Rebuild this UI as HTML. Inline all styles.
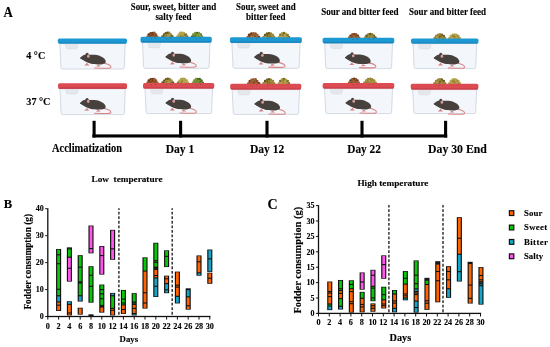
<!DOCTYPE html><html><head><meta charset="utf-8"><style>html,body{margin:0;padding:0;background:#fff;width:550px;height:347px;overflow:hidden}svg{display:block;will-change:transform}</style></head><body>
<svg width="550" height="347" viewBox="0 0 550 347" style="font-family:'Liberation Serif',serif;font-weight:bold"><style>text{stroke:#000;stroke-width:0.12px;paint-order:stroke}</style>
<defs><symbol id="mouse" viewBox="0 0 30 16" preserveAspectRatio="none" overflow="visible">
<path d="M23,10 C26.5,10.6 29.5,11.6 29.6,13.4 C29.7,14.8 26,14.7 13.5,14.3" fill="none" stroke="#d88282" stroke-width="1.0"/>
<path d="M0,5 C0.8,4 1.8,3.2 3,2.6 C4.2,2 5.2,1.9 6,2 C7.5,2.2 8.5,2.3 10,2.3 C13.5,2.2 17,2.3 20,3.8 C22.8,5 24.6,6.8 24.6,8.4 C24.6,10 23,10.8 20,11 C17,11.2 13,11.1 10.5,10.5 C7.5,9.8 5,8.6 3,7.3 C1.6,6.5 0.4,5.8 0,5 Z" fill="#47413e"/>
<circle cx="6.7" cy="1.9" r="1.5" fill="#47413e"/>
<ellipse cx="7.8" cy="3.5" rx="1.25" ry="1.45" fill="#dc9c9c"/>
<path d="M6.5,9.6 L4,12 L8.8,11.9 Z" fill="#d88282"/>
<path d="M17,11 L15.5,13 L20,12.8 Z" fill="#d88282"/>
<circle cx="0.5" cy="5.2" r="0.5" fill="#2a2626"/>
</symbol></defs>
<text x="3.6" y="16.5" font-size="13.8" text-anchor="start" textLength="9.3" lengthAdjust="spacingAndGlyphs">A</text>
<text x="26.3" y="58.8" font-size="9.8" text-anchor="start" textLength="18.9" lengthAdjust="spacingAndGlyphs">4 °C</text>
<text x="26.3" y="104.8" font-size="9.8" text-anchor="start" textLength="24.2" lengthAdjust="spacingAndGlyphs">37 °C</text>
<text x="173.4" y="9.6" font-size="9.5" text-anchor="middle" textLength="85.5" lengthAdjust="spacingAndGlyphs">Sour, sweet, bitter and</text>
<text x="173.4" y="19.6" font-size="9.5" text-anchor="middle" textLength="36" lengthAdjust="spacingAndGlyphs">salty feed</text>
<path d="M59.8,43.6 L125.2,43.6 L124.3,67.5 Q124.2,69.0 122.7,69.0 L62.599999999999994,69.0 Q61.0,69.0 60.9,67.5 Z" fill="#f3f6fa" stroke="#c9d2dd" stroke-width="0.8"/><path d="M65.3,43.6 L77.89999999999999,43.6 L77.1,47.800000000000004 Q76.89999999999999,48.800000000000004 75.89999999999999,48.800000000000004 L67.3,48.800000000000004 Q66.3,48.800000000000004 66.1,47.800000000000004 Z" fill="#e4e7eb" stroke="#d3d8de" stroke-width="0.5"/><rect x="57.8" y="38.4" width="69.2" height="5.200000000000003" rx="1.8" fill="#1c98d3"/><rect x="58.3" y="42.4" width="68.2" height="1.2" rx="0.6" fill="#1680bb"/><use href="#mouse" x="80.20" y="52.30" width="31.20" height="17.60"/>
<path d="M142.5,42.5 L210.0,42.5 L209.1,66.8 Q209.0,68.3 207.5,68.3 L145.3,68.3 Q143.7,68.3 143.6,66.8 Z" fill="#f3f6fa" stroke="#c9d2dd" stroke-width="0.8"/><path d="M148.0,42.5 L160.6,42.5 L159.79999999999998,46.7 Q159.6,47.7 158.6,47.7 L150.0,47.7 Q149.0,47.7 148.8,46.7 Z" fill="#e4e7eb" stroke="#d3d8de" stroke-width="0.5"/><path d="M145.90,38.60 C147.47,35.80 148.78,32.00 152.45,32.00 C156.12,32.00 157.43,35.80 159.00,38.60 Z" fill="#9a5a30"/><circle cx="147.31" cy="36.44" r="1.03" fill="#9a5a30"/><circle cx="157.59" cy="36.44" r="1.01" fill="#9a5a30"/><circle cx="148.69" cy="34.37" r="1.18" fill="#6a3a1c"/><circle cx="156.21" cy="34.37" r="1.13" fill="#9a5a30"/><circle cx="150.51" cy="32.92" r="1.04" fill="#6a3a1c"/><circle cx="154.39" cy="32.92" r="1.30" fill="#9a5a30"/><circle cx="152.45" cy="32.70" r="1.02" fill="#6a3a1c"/><circle cx="153.09" cy="34.83" r="0.73" fill="#6a3a1c" opacity="0.75"/><circle cx="149.56" cy="37.23" r="0.79" fill="#6a3a1c" opacity="0.75"/><circle cx="155.63" cy="35.02" r="0.67" fill="#6a3a1c" opacity="0.75"/><circle cx="150.71" cy="35.71" r="0.69" fill="#6a3a1c" opacity="0.75"/><circle cx="152.64" cy="34.41" r="0.77" fill="#6a3a1c" opacity="0.75"/><circle cx="149.24" cy="35.23" r="0.59" fill="#6a3a1c" opacity="0.75"/><circle cx="151.72" cy="35.17" r="0.81" fill="#6a3a1c" opacity="0.75"/><circle cx="153.72" cy="36.60" r="0.83" fill="#6a3a1c" opacity="0.75"/><circle cx="153.37" cy="36.66" r="0.65" fill="#cdb878" opacity="0.4"/><path d="M161.20,38.60 C162.68,35.80 163.91,32.00 167.35,32.00 C170.79,32.00 172.02,35.80 173.50,38.60 Z" fill="#9c8838"/><circle cx="162.53" cy="36.44" r="1.28" fill="#66581e"/><circle cx="172.17" cy="36.44" r="1.32" fill="#66581e"/><circle cx="163.82" cy="34.37" r="1.02" fill="#66581e"/><circle cx="170.88" cy="34.37" r="1.18" fill="#9c8838"/><circle cx="165.53" cy="32.92" r="1.01" fill="#66581e"/><circle cx="169.17" cy="32.92" r="1.30" fill="#9c8838"/><circle cx="167.35" cy="32.70" r="1.22" fill="#66581e"/><circle cx="166.94" cy="36.11" r="0.70" fill="#cdb878" opacity="0.4"/><circle cx="168.39" cy="35.39" r="0.81" fill="#cdb878" opacity="0.4"/><circle cx="169.46" cy="34.91" r="0.68" fill="#cdb878" opacity="0.4"/><circle cx="165.81" cy="37.18" r="0.82" fill="#cdb878" opacity="0.4"/><circle cx="164.86" cy="37.15" r="0.69" fill="#66581e" opacity="0.75"/><circle cx="164.12" cy="35.95" r="0.58" fill="#66581e" opacity="0.75"/><circle cx="168.27" cy="36.21" r="0.81" fill="#cdb878" opacity="0.4"/><circle cx="166.45" cy="35.40" r="0.61" fill="#66581e" opacity="0.75"/><circle cx="167.30" cy="35.01" r="0.69" fill="#cdb878" opacity="0.4"/><path d="M176.00,38.60 C177.50,35.80 178.75,32.00 182.25,32.00 C185.75,32.00 187.00,35.80 188.50,38.60 Z" fill="#b4a24c"/><circle cx="177.35" cy="36.44" r="1.19" fill="#b4a24c"/><circle cx="187.15" cy="36.44" r="1.17" fill="#7e6e28"/><circle cx="178.66" cy="34.37" r="1.15" fill="#b4a24c"/><circle cx="185.84" cy="34.37" r="1.23" fill="#7e6e28"/><circle cx="180.40" cy="32.92" r="1.34" fill="#b4a24c"/><circle cx="184.10" cy="32.92" r="1.06" fill="#b4a24c"/><circle cx="182.25" cy="32.70" r="1.31" fill="#b4a24c"/><circle cx="179.29" cy="37.17" r="0.67" fill="#7e6e28" opacity="0.75"/><circle cx="184.78" cy="35.23" r="0.84" fill="#7e6e28" opacity="0.75"/><circle cx="180.84" cy="36.24" r="0.67" fill="#7e6e28" opacity="0.75"/><circle cx="181.69" cy="36.70" r="0.80" fill="#cdb878" opacity="0.4"/><circle cx="185.01" cy="35.73" r="0.55" fill="#7e6e28" opacity="0.75"/><circle cx="182.97" cy="36.30" r="0.82" fill="#7e6e28" opacity="0.75"/><circle cx="180.26" cy="37.29" r="0.73" fill="#7e6e28" opacity="0.75"/><circle cx="185.83" cy="34.89" r="0.71" fill="#7e6e28" opacity="0.75"/><circle cx="180.94" cy="36.08" r="0.80" fill="#7e6e28" opacity="0.75"/><path d="M190.80,38.60 C192.31,35.80 193.57,32.00 197.10,32.00 C200.63,32.00 201.89,35.80 203.40,38.60 Z" fill="#78963a"/><circle cx="192.16" cy="36.44" r="1.23" fill="#4a6420"/><circle cx="202.04" cy="36.44" r="1.30" fill="#78963a"/><circle cx="193.49" cy="34.37" r="1.30" fill="#78963a"/><circle cx="200.71" cy="34.37" r="1.19" fill="#4a6420"/><circle cx="195.24" cy="32.92" r="1.21" fill="#78963a"/><circle cx="198.96" cy="32.92" r="1.06" fill="#78963a"/><circle cx="197.10" cy="32.70" r="1.03" fill="#4a6420"/><circle cx="199.68" cy="34.58" r="0.79" fill="#cdb878" opacity="0.4"/><circle cx="194.78" cy="36.00" r="0.69" fill="#4a6420" opacity="0.75"/><circle cx="200.07" cy="34.57" r="0.82" fill="#cdb878" opacity="0.4"/><circle cx="195.39" cy="37.37" r="0.76" fill="#4a6420" opacity="0.75"/><circle cx="195.64" cy="35.17" r="0.62" fill="#4a6420" opacity="0.75"/><circle cx="199.77" cy="35.10" r="0.64" fill="#cdb878" opacity="0.4"/><circle cx="200.32" cy="35.90" r="0.61" fill="#cdb878" opacity="0.4"/><circle cx="193.82" cy="36.90" r="0.84" fill="#4a6420" opacity="0.75"/><circle cx="195.82" cy="37.21" r="0.58" fill="#4a6420" opacity="0.75"/><rect x="140.5" y="36.8" width="71.30000000000001" height="5.700000000000003" rx="1.8" fill="#1c98d3"/><rect x="141.0" y="41.3" width="70.30000000000001" height="1.2" rx="0.6" fill="#1680bb"/><circle cx="151.40" cy="38.60" r="0.55" fill="#6a3a1c" opacity="0.6"/><circle cx="155.33" cy="38.10" r="0.55" fill="#6a3a1c" opacity="0.6"/><circle cx="166.37" cy="38.60" r="0.55" fill="#66581e" opacity="0.6"/><circle cx="170.06" cy="38.10" r="0.55" fill="#66581e" opacity="0.6"/><circle cx="181.25" cy="38.60" r="0.55" fill="#7e6e28" opacity="0.6"/><circle cx="185.00" cy="38.10" r="0.55" fill="#7e6e28" opacity="0.6"/><circle cx="196.09" cy="38.60" r="0.55" fill="#4a6420" opacity="0.6"/><circle cx="199.87" cy="38.10" r="0.55" fill="#4a6420" opacity="0.6"/><use href="#mouse" x="165.60" y="51.20" width="31.20" height="17.60"/>
<path d="M231.9,42.7 L300.09999999999997,42.7 L299.2,66.8 Q299.09999999999997,68.3 297.59999999999997,68.3 L234.70000000000002,68.3 Q233.1,68.3 233.0,66.8 Z" fill="#f3f6fa" stroke="#c9d2dd" stroke-width="0.8"/><path d="M237.4,42.7 L250.0,42.7 L249.2,46.900000000000006 Q249.0,47.900000000000006 248.0,47.900000000000006 L239.4,47.900000000000006 Q238.4,47.900000000000006 238.20000000000002,46.900000000000006 Z" fill="#e4e7eb" stroke="#d3d8de" stroke-width="0.5"/><path d="M246.00,39.00 C247.76,36.25 249.23,32.50 253.35,32.50 C257.47,32.50 258.94,36.25 260.70,39.00 Z" fill="#9a5a30"/><circle cx="247.59" cy="36.88" r="1.14" fill="#9a5a30"/><circle cx="259.11" cy="36.88" r="1.19" fill="#6a3a1c"/><circle cx="249.13" cy="34.85" r="1.30" fill="#6a3a1c"/><circle cx="257.57" cy="34.85" r="1.00" fill="#9a5a30"/><circle cx="251.17" cy="33.41" r="1.07" fill="#6a3a1c"/><circle cx="255.53" cy="33.41" r="1.15" fill="#9a5a30"/><circle cx="253.35" cy="33.20" r="1.18" fill="#9a5a30"/><circle cx="249.79" cy="36.00" r="0.56" fill="#6a3a1c" opacity="0.75"/><circle cx="251.59" cy="35.79" r="0.79" fill="#6a3a1c" opacity="0.75"/><circle cx="252.78" cy="37.29" r="0.75" fill="#6a3a1c" opacity="0.75"/><circle cx="251.22" cy="36.20" r="0.76" fill="#cdb878" opacity="0.4"/><circle cx="251.91" cy="36.42" r="0.76" fill="#cdb878" opacity="0.4"/><circle cx="253.16" cy="36.61" r="0.79" fill="#cdb878" opacity="0.4"/><circle cx="256.73" cy="35.97" r="0.61" fill="#cdb878" opacity="0.4"/><circle cx="255.07" cy="36.69" r="0.76" fill="#6a3a1c" opacity="0.75"/><circle cx="253.68" cy="37.40" r="0.61" fill="#cdb878" opacity="0.4"/><path d="M262.00,39.00 C263.68,36.25 265.08,32.50 269.00,32.50 C272.92,32.50 274.32,36.25 276.00,39.00 Z" fill="#9c8838"/><circle cx="263.51" cy="36.88" r="1.17" fill="#9c8838"/><circle cx="274.49" cy="36.88" r="1.03" fill="#9c8838"/><circle cx="264.98" cy="34.85" r="1.18" fill="#66581e"/><circle cx="273.02" cy="34.85" r="1.22" fill="#9c8838"/><circle cx="266.93" cy="33.41" r="1.05" fill="#66581e"/><circle cx="271.07" cy="33.41" r="1.07" fill="#9c8838"/><circle cx="269.00" cy="33.20" r="1.20" fill="#66581e"/><circle cx="265.61" cy="37.61" r="0.57" fill="#cdb878" opacity="0.4"/><circle cx="267.42" cy="35.68" r="0.85" fill="#66581e" opacity="0.75"/><circle cx="271.05" cy="35.95" r="0.65" fill="#66581e" opacity="0.75"/><circle cx="270.71" cy="36.22" r="0.63" fill="#66581e" opacity="0.75"/><circle cx="271.36" cy="35.76" r="0.85" fill="#cdb878" opacity="0.4"/><circle cx="267.33" cy="34.96" r="0.78" fill="#66581e" opacity="0.75"/><circle cx="265.51" cy="37.18" r="0.81" fill="#cdb878" opacity="0.4"/><circle cx="267.87" cy="36.95" r="0.80" fill="#66581e" opacity="0.75"/><circle cx="269.72" cy="36.39" r="0.58" fill="#66581e" opacity="0.75"/><path d="M277.50,39.00 C279.06,36.25 280.36,32.50 284.00,32.50 C287.64,32.50 288.94,36.25 290.50,39.00 Z" fill="#b4a24c"/><circle cx="278.90" cy="36.88" r="1.22" fill="#b4a24c"/><circle cx="289.10" cy="36.88" r="1.10" fill="#7e6e28"/><circle cx="280.27" cy="34.85" r="1.27" fill="#7e6e28"/><circle cx="287.73" cy="34.85" r="1.22" fill="#7e6e28"/><circle cx="282.08" cy="33.41" r="1.35" fill="#b4a24c"/><circle cx="285.92" cy="33.41" r="1.01" fill="#b4a24c"/><circle cx="284.00" cy="33.20" r="1.33" fill="#7e6e28"/><circle cx="286.64" cy="35.93" r="0.62" fill="#7e6e28" opacity="0.75"/><circle cx="287.57" cy="37.43" r="0.83" fill="#7e6e28" opacity="0.75"/><circle cx="284.86" cy="35.33" r="0.83" fill="#cdb878" opacity="0.4"/><circle cx="286.79" cy="37.37" r="0.73" fill="#cdb878" opacity="0.4"/><circle cx="283.40" cy="35.82" r="0.74" fill="#7e6e28" opacity="0.75"/><circle cx="287.21" cy="35.12" r="0.71" fill="#7e6e28" opacity="0.75"/><circle cx="280.74" cy="37.31" r="0.83" fill="#cdb878" opacity="0.4"/><circle cx="287.59" cy="36.15" r="0.61" fill="#cdb878" opacity="0.4"/><circle cx="282.54" cy="34.83" r="0.81" fill="#7e6e28" opacity="0.75"/><rect x="229.9" y="37.2" width="71.99999999999997" height="5.5" rx="1.8" fill="#1c98d3"/><rect x="230.4" y="41.5" width="70.99999999999997" height="1.2" rx="0.6" fill="#1680bb"/><circle cx="252.17" cy="39.00" r="0.55" fill="#6a3a1c" opacity="0.6"/><circle cx="256.58" cy="38.50" r="0.55" fill="#6a3a1c" opacity="0.6"/><circle cx="267.88" cy="39.00" r="0.55" fill="#66581e" opacity="0.6"/><circle cx="272.08" cy="38.50" r="0.55" fill="#66581e" opacity="0.6"/><circle cx="282.96" cy="39.00" r="0.55" fill="#7e6e28" opacity="0.6"/><circle cx="286.86" cy="38.50" r="0.55" fill="#7e6e28" opacity="0.6"/><use href="#mouse" x="254.30" y="51.40" width="31.20" height="17.60"/>
<path d="M324.6,43.2 L392.5,43.2 L391.6,67.1 Q391.5,68.6 390.0,68.6 L327.40000000000003,68.6 Q325.8,68.6 325.70000000000005,67.1 Z" fill="#f3f6fa" stroke="#c9d2dd" stroke-width="0.8"/><path d="M330.1,43.2 L342.70000000000005,43.2 L341.90000000000003,47.400000000000006 Q341.70000000000005,48.400000000000006 340.70000000000005,48.400000000000006 L332.1,48.400000000000006 Q331.1,48.400000000000006 330.90000000000003,47.400000000000006 Z" fill="#e4e7eb" stroke="#d3d8de" stroke-width="0.5"/><path d="M347.70,39.60 C349.27,36.95 350.58,33.30 354.25,33.30 C357.92,33.30 359.23,36.95 360.80,39.60 Z" fill="#9a5a30"/><circle cx="349.11" cy="37.57" r="1.22" fill="#9a5a30"/><circle cx="359.39" cy="37.57" r="1.03" fill="#9a5a30"/><circle cx="350.49" cy="35.59" r="1.16" fill="#6a3a1c"/><circle cx="358.01" cy="35.59" r="1.08" fill="#6a3a1c"/><circle cx="352.31" cy="34.20" r="1.08" fill="#9a5a30"/><circle cx="356.19" cy="34.20" r="1.14" fill="#9a5a30"/><circle cx="354.25" cy="34.00" r="1.09" fill="#6a3a1c"/><circle cx="353.66" cy="35.77" r="0.80" fill="#6a3a1c" opacity="0.75"/><circle cx="354.26" cy="38.35" r="0.85" fill="#cdb878" opacity="0.4"/><circle cx="353.25" cy="37.01" r="0.67" fill="#cdb878" opacity="0.4"/><circle cx="352.06" cy="37.27" r="0.80" fill="#6a3a1c" opacity="0.75"/><circle cx="350.70" cy="36.74" r="0.82" fill="#cdb878" opacity="0.4"/><circle cx="357.13" cy="36.34" r="0.71" fill="#cdb878" opacity="0.4"/><circle cx="353.96" cy="35.54" r="0.65" fill="#cdb878" opacity="0.4"/><circle cx="356.24" cy="35.49" r="0.85" fill="#6a3a1c" opacity="0.75"/><circle cx="350.78" cy="36.99" r="0.71" fill="#6a3a1c" opacity="0.75"/><path d="M363.70,39.60 C365.27,36.95 366.58,33.30 370.25,33.30 C373.92,33.30 375.23,36.95 376.80,39.60 Z" fill="#9c8838"/><circle cx="365.11" cy="37.57" r="1.34" fill="#9c8838"/><circle cx="375.39" cy="37.57" r="1.34" fill="#66581e"/><circle cx="366.49" cy="35.59" r="1.18" fill="#66581e"/><circle cx="374.01" cy="35.59" r="1.11" fill="#66581e"/><circle cx="368.31" cy="34.20" r="1.08" fill="#9c8838"/><circle cx="372.19" cy="34.20" r="1.18" fill="#9c8838"/><circle cx="370.25" cy="34.00" r="1.34" fill="#66581e"/><circle cx="372.94" cy="37.19" r="0.75" fill="#66581e" opacity="0.75"/><circle cx="372.14" cy="38.17" r="0.78" fill="#cdb878" opacity="0.4"/><circle cx="373.80" cy="37.14" r="0.83" fill="#66581e" opacity="0.75"/><circle cx="366.87" cy="37.09" r="0.56" fill="#66581e" opacity="0.75"/><circle cx="369.66" cy="36.13" r="0.62" fill="#cdb878" opacity="0.4"/><circle cx="371.72" cy="36.85" r="0.68" fill="#cdb878" opacity="0.4"/><circle cx="369.69" cy="36.81" r="0.61" fill="#66581e" opacity="0.75"/><circle cx="373.73" cy="36.46" r="0.72" fill="#cdb878" opacity="0.4"/><circle cx="367.01" cy="35.48" r="0.73" fill="#66581e" opacity="0.75"/><rect x="322.6" y="37.8" width="71.69999999999999" height="5.400000000000006" rx="1.8" fill="#1c98d3"/><rect x="323.1" y="42.0" width="70.69999999999999" height="1.2" rx="0.6" fill="#1680bb"/><circle cx="353.20" cy="39.60" r="0.55" fill="#6a3a1c" opacity="0.6"/><circle cx="357.13" cy="39.10" r="0.55" fill="#6a3a1c" opacity="0.6"/><circle cx="369.20" cy="39.60" r="0.55" fill="#66581e" opacity="0.6"/><circle cx="373.13" cy="39.10" r="0.55" fill="#66581e" opacity="0.6"/><use href="#mouse" x="345.10" y="51.90" width="31.20" height="17.60"/>
<path d="M413.0,43.6 L476.7,43.6 L475.8,67.1 Q475.7,68.6 474.2,68.6 L415.8,68.6 Q414.2,68.6 414.1,67.1 Z" fill="#f3f6fa" stroke="#c9d2dd" stroke-width="0.8"/><path d="M418.5,43.6 L431.1,43.6 L430.3,47.800000000000004 Q430.1,48.800000000000004 429.1,48.800000000000004 L420.5,48.800000000000004 Q419.5,48.800000000000004 419.3,47.800000000000004 Z" fill="#e4e7eb" stroke="#d3d8de" stroke-width="0.5"/><path d="M433.10,40.20 C434.72,37.45 436.07,33.70 439.85,33.70 C443.63,33.70 444.98,37.45 446.60,40.20 Z" fill="#9c8838"/><circle cx="434.56" cy="38.08" r="1.31" fill="#9c8838"/><circle cx="445.14" cy="38.08" r="1.22" fill="#9c8838"/><circle cx="435.98" cy="36.05" r="1.22" fill="#9c8838"/><circle cx="443.72" cy="36.05" r="1.29" fill="#66581e"/><circle cx="437.85" cy="34.61" r="1.03" fill="#9c8838"/><circle cx="441.85" cy="34.61" r="1.16" fill="#66581e"/><circle cx="439.85" cy="34.40" r="1.31" fill="#9c8838"/><circle cx="439.30" cy="37.01" r="0.67" fill="#66581e" opacity="0.75"/><circle cx="443.30" cy="36.89" r="0.77" fill="#cdb878" opacity="0.4"/><circle cx="443.82" cy="36.88" r="0.59" fill="#66581e" opacity="0.75"/><circle cx="440.41" cy="36.38" r="0.83" fill="#66581e" opacity="0.75"/><circle cx="438.49" cy="37.65" r="0.79" fill="#cdb878" opacity="0.4"/><circle cx="438.09" cy="37.52" r="0.77" fill="#cdb878" opacity="0.4"/><circle cx="439.13" cy="37.95" r="0.75" fill="#66581e" opacity="0.75"/><circle cx="437.09" cy="36.79" r="0.84" fill="#cdb878" opacity="0.4"/><circle cx="439.78" cy="36.67" r="0.72" fill="#66581e" opacity="0.75"/><path d="M448.00,40.20 C449.58,37.45 450.90,33.70 454.60,33.70 C458.30,33.70 459.62,37.45 461.20,40.20 Z" fill="#b4a24c"/><circle cx="449.43" cy="38.08" r="1.30" fill="#b4a24c"/><circle cx="459.77" cy="38.08" r="1.28" fill="#b4a24c"/><circle cx="450.81" cy="36.05" r="1.19" fill="#b4a24c"/><circle cx="458.39" cy="36.05" r="1.35" fill="#b4a24c"/><circle cx="452.65" cy="34.61" r="1.11" fill="#b4a24c"/><circle cx="456.55" cy="34.61" r="1.05" fill="#b4a24c"/><circle cx="454.60" cy="34.40" r="1.09" fill="#b4a24c"/><circle cx="453.67" cy="36.54" r="0.81" fill="#7e6e28" opacity="0.75"/><circle cx="457.18" cy="36.79" r="0.81" fill="#cdb878" opacity="0.4"/><circle cx="456.50" cy="37.70" r="0.65" fill="#cdb878" opacity="0.4"/><circle cx="458.10" cy="38.17" r="0.77" fill="#7e6e28" opacity="0.75"/><circle cx="457.27" cy="36.16" r="0.74" fill="#7e6e28" opacity="0.75"/><circle cx="452.85" cy="36.10" r="0.80" fill="#7e6e28" opacity="0.75"/><circle cx="454.16" cy="37.21" r="0.79" fill="#cdb878" opacity="0.4"/><circle cx="455.10" cy="37.45" r="0.62" fill="#7e6e28" opacity="0.75"/><circle cx="454.31" cy="36.51" r="0.76" fill="#7e6e28" opacity="0.75"/><rect x="411" y="38.4" width="67.5" height="5.200000000000003" rx="1.8" fill="#1c98d3"/><rect x="411.5" y="42.4" width="66.5" height="1.2" rx="0.6" fill="#1680bb"/><circle cx="438.77" cy="40.20" r="0.55" fill="#66581e" opacity="0.6"/><circle cx="442.82" cy="39.70" r="0.55" fill="#66581e" opacity="0.6"/><circle cx="453.54" cy="40.20" r="0.55" fill="#7e6e28" opacity="0.6"/><circle cx="457.50" cy="39.70" r="0.55" fill="#7e6e28" opacity="0.6"/><use href="#mouse" x="433.80" y="52.30" width="31.20" height="17.60"/>
<path d="M60.0,88.8 L125.3,88.8 L124.39999999999999,113.1 Q124.3,114.6 122.8,114.6 L62.8,114.6 Q61.2,114.6 61.1,113.1 Z" fill="#f3f6fa" stroke="#c9d2dd" stroke-width="0.8"/><path d="M65.5,88.8 L78.1,88.8 L77.3,93.0 Q77.1,94.0 76.1,94.0 L67.5,94.0 Q66.5,94.0 66.3,93.0 Z" fill="#e4e7eb" stroke="#d3d8de" stroke-width="0.5"/><rect x="58" y="83.3" width="69.1" height="5.5" rx="1.8" fill="#dc4a52"/><rect x="58.5" y="87.6" width="68.1" height="1.2" rx="0.6" fill="#c43a44"/><use href="#mouse" x="80.10" y="97.50" width="31.20" height="17.60"/>
<path d="M145.0,88.6 L212.5,88.6 L211.6,112.1 Q211.5,113.6 210.0,113.6 L147.8,113.6 Q146.2,113.6 146.1,112.1 Z" fill="#f3f6fa" stroke="#c9d2dd" stroke-width="0.8"/><path d="M150.5,88.6 L163.1,88.6 L162.29999999999998,92.8 Q162.1,93.8 161.1,93.8 L152.5,93.8 Q151.5,93.8 151.3,92.8 Z" fill="#e4e7eb" stroke="#d3d8de" stroke-width="0.5"/><path d="M145.90,84.90 C147.47,81.95 148.78,78.00 152.45,78.00 C156.12,78.00 157.43,81.95 159.00,84.90 Z" fill="#9a5a30"/><circle cx="147.31" cy="82.61" r="1.03" fill="#9a5a30"/><circle cx="157.59" cy="82.61" r="1.01" fill="#9a5a30"/><circle cx="148.69" cy="80.45" r="1.18" fill="#6a3a1c"/><circle cx="156.21" cy="80.45" r="1.13" fill="#9a5a30"/><circle cx="150.51" cy="78.93" r="1.04" fill="#6a3a1c"/><circle cx="154.39" cy="78.93" r="1.30" fill="#9a5a30"/><circle cx="152.45" cy="78.70" r="1.02" fill="#6a3a1c"/><circle cx="153.09" cy="80.99" r="0.73" fill="#6a3a1c" opacity="0.75"/><circle cx="149.56" cy="83.52" r="0.79" fill="#6a3a1c" opacity="0.75"/><circle cx="155.63" cy="81.18" r="0.67" fill="#6a3a1c" opacity="0.75"/><circle cx="150.71" cy="81.92" r="0.69" fill="#6a3a1c" opacity="0.75"/><circle cx="152.64" cy="80.54" r="0.77" fill="#6a3a1c" opacity="0.75"/><circle cx="149.24" cy="81.40" r="0.59" fill="#6a3a1c" opacity="0.75"/><circle cx="151.72" cy="81.34" r="0.81" fill="#6a3a1c" opacity="0.75"/><circle cx="153.72" cy="82.85" r="0.83" fill="#6a3a1c" opacity="0.75"/><circle cx="153.37" cy="82.92" r="0.65" fill="#cdb878" opacity="0.4"/><path d="M161.20,84.90 C162.77,81.95 164.08,78.00 167.75,78.00 C171.42,78.00 172.73,81.95 174.30,84.90 Z" fill="#9c8838"/><circle cx="162.61" cy="82.61" r="1.28" fill="#66581e"/><circle cx="172.89" cy="82.61" r="1.32" fill="#66581e"/><circle cx="163.99" cy="80.45" r="1.02" fill="#66581e"/><circle cx="171.51" cy="80.45" r="1.18" fill="#9c8838"/><circle cx="165.81" cy="78.93" r="1.01" fill="#66581e"/><circle cx="169.69" cy="78.93" r="1.30" fill="#9c8838"/><circle cx="167.75" cy="78.70" r="1.22" fill="#66581e"/><circle cx="167.31" cy="82.34" r="0.70" fill="#cdb878" opacity="0.4"/><circle cx="168.85" cy="81.58" r="0.81" fill="#cdb878" opacity="0.4"/><circle cx="169.99" cy="81.06" r="0.68" fill="#cdb878" opacity="0.4"/><circle cx="166.11" cy="83.47" r="0.82" fill="#cdb878" opacity="0.4"/><circle cx="165.10" cy="83.44" r="0.69" fill="#66581e" opacity="0.75"/><circle cx="164.31" cy="82.17" r="0.58" fill="#66581e" opacity="0.75"/><circle cx="168.72" cy="82.44" r="0.81" fill="#cdb878" opacity="0.4"/><circle cx="166.80" cy="81.58" r="0.61" fill="#66581e" opacity="0.75"/><circle cx="167.70" cy="81.17" r="0.69" fill="#cdb878" opacity="0.4"/><path d="M176.50,84.90 C178.06,81.95 179.36,78.00 183.00,78.00 C186.64,78.00 187.94,81.95 189.50,84.90 Z" fill="#b4a24c"/><circle cx="177.90" cy="82.61" r="1.08" fill="#7e6e28"/><circle cx="188.10" cy="82.61" r="1.13" fill="#b4a24c"/><circle cx="179.27" cy="80.45" r="1.04" fill="#b4a24c"/><circle cx="186.73" cy="80.45" r="1.19" fill="#b4a24c"/><circle cx="181.08" cy="78.93" r="1.16" fill="#b4a24c"/><circle cx="184.92" cy="78.93" r="1.20" fill="#b4a24c"/><circle cx="183.00" cy="78.70" r="1.32" fill="#b4a24c"/><circle cx="181.46" cy="82.14" r="0.83" fill="#7e6e28" opacity="0.75"/><circle cx="180.39" cy="82.79" r="0.78" fill="#cdb878" opacity="0.4"/><circle cx="182.39" cy="81.25" r="0.59" fill="#7e6e28" opacity="0.75"/><circle cx="180.10" cy="83.15" r="0.80" fill="#7e6e28" opacity="0.75"/><circle cx="180.61" cy="81.08" r="0.64" fill="#cdb878" opacity="0.4"/><circle cx="183.14" cy="82.41" r="0.70" fill="#cdb878" opacity="0.4"/><circle cx="182.37" cy="81.01" r="0.70" fill="#7e6e28" opacity="0.75"/><circle cx="184.17" cy="81.58" r="0.80" fill="#cdb878" opacity="0.4"/><circle cx="184.29" cy="83.32" r="0.57" fill="#7e6e28" opacity="0.75"/><path d="M191.50,84.90 C193.01,81.95 194.27,78.00 197.80,78.00 C201.33,78.00 202.59,81.95 204.10,84.90 Z" fill="#78963a"/><circle cx="192.86" cy="82.61" r="1.11" fill="#78963a"/><circle cx="202.74" cy="82.61" r="1.20" fill="#4a6420"/><circle cx="194.19" cy="80.45" r="1.27" fill="#78963a"/><circle cx="201.41" cy="80.45" r="1.29" fill="#4a6420"/><circle cx="195.94" cy="78.93" r="1.17" fill="#78963a"/><circle cx="199.66" cy="78.93" r="1.26" fill="#4a6420"/><circle cx="197.80" cy="78.70" r="1.04" fill="#4a6420"/><circle cx="198.34" cy="83.07" r="0.64" fill="#cdb878" opacity="0.4"/><circle cx="200.46" cy="81.77" r="0.72" fill="#4a6420" opacity="0.75"/><circle cx="196.97" cy="80.87" r="0.55" fill="#4a6420" opacity="0.75"/><circle cx="194.79" cy="83.49" r="0.67" fill="#4a6420" opacity="0.75"/><circle cx="195.79" cy="81.72" r="0.59" fill="#4a6420" opacity="0.75"/><circle cx="200.49" cy="80.91" r="0.79" fill="#4a6420" opacity="0.75"/><circle cx="201.36" cy="82.55" r="0.63" fill="#cdb878" opacity="0.4"/><circle cx="200.76" cy="80.37" r="0.55" fill="#cdb878" opacity="0.4"/><circle cx="199.17" cy="82.23" r="0.67" fill="#4a6420" opacity="0.75"/><rect x="143" y="83.1" width="71.30000000000001" height="5.5" rx="1.8" fill="#dc4a52"/><rect x="143.5" y="87.39999999999999" width="70.30000000000001" height="1.2" rx="0.6" fill="#c43a44"/><circle cx="151.40" cy="84.90" r="0.55" fill="#6a3a1c" opacity="0.6"/><circle cx="155.33" cy="84.40" r="0.55" fill="#6a3a1c" opacity="0.6"/><circle cx="166.70" cy="84.90" r="0.55" fill="#66581e" opacity="0.6"/><circle cx="170.63" cy="84.40" r="0.55" fill="#66581e" opacity="0.6"/><circle cx="181.96" cy="84.90" r="0.55" fill="#7e6e28" opacity="0.6"/><circle cx="185.86" cy="84.40" r="0.55" fill="#7e6e28" opacity="0.6"/><circle cx="196.79" cy="84.90" r="0.55" fill="#4a6420" opacity="0.6"/><circle cx="200.57" cy="84.40" r="0.55" fill="#4a6420" opacity="0.6"/><use href="#mouse" x="165.60" y="97.30" width="31.20" height="17.60"/>
<path d="M232.2,89.6 L299.5,89.6 L298.6,112.9 Q298.5,114.4 297.0,114.4 L235.0,114.4 Q233.39999999999998,114.4 233.29999999999998,112.9 Z" fill="#f3f6fa" stroke="#c9d2dd" stroke-width="0.8"/><path d="M237.7,89.6 L250.29999999999998,89.6 L249.49999999999997,93.8 Q249.29999999999998,94.8 248.29999999999998,94.8 L239.7,94.8 Q238.7,94.8 238.5,93.8 Z" fill="#e4e7eb" stroke="#d3d8de" stroke-width="0.5"/><path d="M246.50,85.60 C248.18,82.55 249.58,78.50 253.50,78.50 C257.42,78.50 258.82,82.55 260.50,85.60 Z" fill="#9a5a30"/><circle cx="248.01" cy="83.22" r="1.04" fill="#9a5a30"/><circle cx="258.99" cy="83.22" r="1.34" fill="#6a3a1c"/><circle cx="249.48" cy="81.00" r="1.05" fill="#6a3a1c"/><circle cx="257.52" cy="81.00" r="1.05" fill="#9a5a30"/><circle cx="251.43" cy="79.45" r="1.03" fill="#9a5a30"/><circle cx="255.57" cy="79.45" r="1.35" fill="#9a5a30"/><circle cx="253.50" cy="79.20" r="1.04" fill="#9a5a30"/><circle cx="253.95" cy="82.05" r="0.79" fill="#6a3a1c" opacity="0.75"/><circle cx="255.94" cy="83.15" r="0.60" fill="#cdb878" opacity="0.4"/><circle cx="255.18" cy="84.23" r="0.55" fill="#6a3a1c" opacity="0.75"/><circle cx="254.12" cy="81.69" r="0.58" fill="#cdb878" opacity="0.4"/><circle cx="256.84" cy="81.06" r="0.82" fill="#6a3a1c" opacity="0.75"/><circle cx="254.15" cy="81.78" r="0.84" fill="#6a3a1c" opacity="0.75"/><circle cx="252.71" cy="81.76" r="0.71" fill="#6a3a1c" opacity="0.75"/><circle cx="252.82" cy="81.38" r="0.84" fill="#cdb878" opacity="0.4"/><circle cx="253.66" cy="83.80" r="0.71" fill="#6a3a1c" opacity="0.75"/><path d="M262.00,85.60 C263.68,82.55 265.08,78.50 269.00,78.50 C272.92,78.50 274.32,82.55 276.00,85.60 Z" fill="#9c8838"/><circle cx="263.51" cy="83.22" r="1.17" fill="#9c8838"/><circle cx="274.49" cy="83.22" r="1.03" fill="#9c8838"/><circle cx="264.98" cy="81.00" r="1.18" fill="#66581e"/><circle cx="273.02" cy="81.00" r="1.22" fill="#9c8838"/><circle cx="266.93" cy="79.45" r="1.05" fill="#66581e"/><circle cx="271.07" cy="79.45" r="1.07" fill="#9c8838"/><circle cx="269.00" cy="79.20" r="1.20" fill="#66581e"/><circle cx="265.61" cy="84.19" r="0.57" fill="#cdb878" opacity="0.4"/><circle cx="267.42" cy="82.03" r="0.85" fill="#66581e" opacity="0.75"/><circle cx="271.05" cy="82.33" r="0.65" fill="#66581e" opacity="0.75"/><circle cx="270.71" cy="82.63" r="0.63" fill="#66581e" opacity="0.75"/><circle cx="271.36" cy="82.13" r="0.85" fill="#cdb878" opacity="0.4"/><circle cx="267.33" cy="81.22" r="0.78" fill="#66581e" opacity="0.75"/><circle cx="265.51" cy="83.70" r="0.81" fill="#cdb878" opacity="0.4"/><circle cx="267.87" cy="83.45" r="0.80" fill="#66581e" opacity="0.75"/><circle cx="269.72" cy="82.83" r="0.58" fill="#66581e" opacity="0.75"/><path d="M277.50,85.60 C279.06,82.55 280.36,78.50 284.00,78.50 C287.64,78.50 288.94,82.55 290.50,85.60 Z" fill="#b4a24c"/><circle cx="278.90" cy="83.22" r="1.22" fill="#b4a24c"/><circle cx="289.10" cy="83.22" r="1.10" fill="#7e6e28"/><circle cx="280.27" cy="81.00" r="1.27" fill="#7e6e28"/><circle cx="287.73" cy="81.00" r="1.22" fill="#7e6e28"/><circle cx="282.08" cy="79.45" r="1.35" fill="#b4a24c"/><circle cx="285.92" cy="79.45" r="1.01" fill="#b4a24c"/><circle cx="284.00" cy="79.20" r="1.33" fill="#7e6e28"/><circle cx="286.64" cy="82.31" r="0.62" fill="#7e6e28" opacity="0.75"/><circle cx="287.57" cy="83.99" r="0.83" fill="#7e6e28" opacity="0.75"/><circle cx="284.86" cy="81.64" r="0.83" fill="#cdb878" opacity="0.4"/><circle cx="286.79" cy="83.92" r="0.73" fill="#cdb878" opacity="0.4"/><circle cx="283.40" cy="82.19" r="0.74" fill="#7e6e28" opacity="0.75"/><circle cx="287.21" cy="81.41" r="0.71" fill="#7e6e28" opacity="0.75"/><circle cx="280.74" cy="83.85" r="0.83" fill="#cdb878" opacity="0.4"/><circle cx="287.59" cy="82.56" r="0.61" fill="#cdb878" opacity="0.4"/><circle cx="282.54" cy="81.08" r="0.81" fill="#7e6e28" opacity="0.75"/><rect x="230.2" y="83.8" width="71.10000000000002" height="5.799999999999997" rx="1.8" fill="#dc4a52"/><rect x="230.7" y="88.39999999999999" width="70.10000000000002" height="1.2" rx="0.6" fill="#c43a44"/><circle cx="252.38" cy="85.60" r="0.55" fill="#6a3a1c" opacity="0.6"/><circle cx="256.58" cy="85.10" r="0.55" fill="#6a3a1c" opacity="0.6"/><circle cx="267.88" cy="85.60" r="0.55" fill="#66581e" opacity="0.6"/><circle cx="272.08" cy="85.10" r="0.55" fill="#66581e" opacity="0.6"/><circle cx="282.96" cy="85.60" r="0.55" fill="#7e6e28" opacity="0.6"/><circle cx="286.86" cy="85.10" r="0.55" fill="#7e6e28" opacity="0.6"/><use href="#mouse" x="254.50" y="98.30" width="31.20" height="17.60"/>
<path d="M324.6,88.6 L392.5,88.6 L391.6,112.1 Q391.5,113.6 390.0,113.6 L327.40000000000003,113.6 Q325.8,113.6 325.70000000000005,112.1 Z" fill="#f3f6fa" stroke="#c9d2dd" stroke-width="0.8"/><path d="M330.1,88.6 L342.70000000000005,88.6 L341.90000000000003,92.8 Q341.70000000000005,93.8 340.70000000000005,93.8 L332.1,93.8 Q331.1,93.8 330.90000000000003,92.8 Z" fill="#e4e7eb" stroke="#d3d8de" stroke-width="0.5"/><path d="M347.70,84.90 C349.22,81.95 350.49,78.00 354.05,78.00 C357.61,78.00 358.88,81.95 360.40,84.90 Z" fill="#9a5a30"/><circle cx="349.07" cy="82.61" r="1.22" fill="#9a5a30"/><circle cx="359.03" cy="82.61" r="1.03" fill="#9a5a30"/><circle cx="350.41" cy="80.45" r="1.16" fill="#6a3a1c"/><circle cx="357.69" cy="80.45" r="1.08" fill="#6a3a1c"/><circle cx="352.17" cy="78.93" r="1.08" fill="#9a5a30"/><circle cx="355.93" cy="78.93" r="1.14" fill="#9a5a30"/><circle cx="354.05" cy="78.70" r="1.09" fill="#6a3a1c"/><circle cx="353.48" cy="80.75" r="0.80" fill="#6a3a1c" opacity="0.75"/><circle cx="354.06" cy="83.65" r="0.85" fill="#cdb878" opacity="0.4"/><circle cx="353.08" cy="82.14" r="0.67" fill="#cdb878" opacity="0.4"/><circle cx="351.93" cy="82.43" r="0.80" fill="#6a3a1c" opacity="0.75"/><circle cx="350.61" cy="81.84" r="0.82" fill="#cdb878" opacity="0.4"/><circle cx="356.84" cy="81.39" r="0.71" fill="#cdb878" opacity="0.4"/><circle cx="353.77" cy="80.50" r="0.65" fill="#cdb878" opacity="0.4"/><circle cx="355.98" cy="80.43" r="0.85" fill="#6a3a1c" opacity="0.75"/><circle cx="350.68" cy="82.12" r="0.71" fill="#6a3a1c" opacity="0.75"/><path d="M363.00,84.90 C364.72,81.95 366.15,78.00 370.15,78.00 C374.15,78.00 375.58,81.95 377.30,84.90 Z" fill="#9c8838"/><circle cx="364.54" cy="82.61" r="1.24" fill="#9c8838"/><circle cx="375.76" cy="82.61" r="1.20" fill="#9c8838"/><circle cx="366.05" cy="80.45" r="1.13" fill="#9c8838"/><circle cx="374.25" cy="80.45" r="1.19" fill="#9c8838"/><circle cx="368.03" cy="78.93" r="1.23" fill="#9c8838"/><circle cx="372.27" cy="78.93" r="1.04" fill="#9c8838"/><circle cx="370.15" cy="78.70" r="1.28" fill="#9c8838"/><circle cx="367.58" cy="81.33" r="0.79" fill="#66581e" opacity="0.75"/><circle cx="372.96" cy="81.60" r="0.73" fill="#cdb878" opacity="0.4"/><circle cx="367.61" cy="81.36" r="0.56" fill="#cdb878" opacity="0.4"/><circle cx="366.39" cy="80.69" r="0.83" fill="#cdb878" opacity="0.4"/><circle cx="369.00" cy="80.77" r="0.66" fill="#cdb878" opacity="0.4"/><circle cx="370.54" cy="81.47" r="0.69" fill="#cdb878" opacity="0.4"/><circle cx="370.73" cy="82.82" r="0.59" fill="#cdb878" opacity="0.4"/><circle cx="369.37" cy="80.54" r="0.73" fill="#cdb878" opacity="0.4"/><circle cx="374.30" cy="81.14" r="0.66" fill="#cdb878" opacity="0.4"/><rect x="322.6" y="83.1" width="71.69999999999999" height="5.5" rx="1.8" fill="#dc4a52"/><rect x="323.1" y="87.39999999999999" width="70.69999999999999" height="1.2" rx="0.6" fill="#c43a44"/><circle cx="353.03" cy="84.90" r="0.55" fill="#6a3a1c" opacity="0.6"/><circle cx="356.84" cy="84.40" r="0.55" fill="#6a3a1c" opacity="0.6"/><circle cx="369.01" cy="84.90" r="0.55" fill="#66581e" opacity="0.6"/><circle cx="373.30" cy="84.40" r="0.55" fill="#66581e" opacity="0.6"/><use href="#mouse" x="345.60" y="97.30" width="31.20" height="17.60"/>
<path d="M412.7,89.6 L476.59999999999997,89.6 L475.7,112.1 Q475.59999999999997,113.6 474.09999999999997,113.6 L415.5,113.6 Q413.9,113.6 413.8,112.1 Z" fill="#f3f6fa" stroke="#c9d2dd" stroke-width="0.8"/><path d="M418.2,89.6 L430.8,89.6 L430.0,93.8 Q429.8,94.8 428.8,94.8 L420.2,94.8 Q419.2,94.8 419.0,93.8 Z" fill="#e4e7eb" stroke="#d3d8de" stroke-width="0.5"/><path d="M433.10,85.60 C434.72,82.55 436.07,78.50 439.85,78.50 C443.63,78.50 444.98,82.55 446.60,85.60 Z" fill="#9c8838"/><circle cx="434.56" cy="83.22" r="1.31" fill="#9c8838"/><circle cx="445.14" cy="83.22" r="1.22" fill="#9c8838"/><circle cx="435.98" cy="81.00" r="1.22" fill="#9c8838"/><circle cx="443.72" cy="81.00" r="1.29" fill="#66581e"/><circle cx="437.85" cy="79.45" r="1.03" fill="#9c8838"/><circle cx="441.85" cy="79.45" r="1.16" fill="#66581e"/><circle cx="439.85" cy="79.20" r="1.31" fill="#9c8838"/><circle cx="439.30" cy="82.18" r="0.67" fill="#66581e" opacity="0.75"/><circle cx="443.30" cy="82.04" r="0.77" fill="#cdb878" opacity="0.4"/><circle cx="443.82" cy="82.03" r="0.59" fill="#66581e" opacity="0.75"/><circle cx="440.41" cy="81.48" r="0.83" fill="#66581e" opacity="0.75"/><circle cx="438.49" cy="82.90" r="0.79" fill="#cdb878" opacity="0.4"/><circle cx="438.09" cy="82.75" r="0.77" fill="#cdb878" opacity="0.4"/><circle cx="439.13" cy="83.23" r="0.75" fill="#66581e" opacity="0.75"/><circle cx="437.09" cy="81.93" r="0.84" fill="#cdb878" opacity="0.4"/><circle cx="439.78" cy="81.80" r="0.72" fill="#66581e" opacity="0.75"/><path d="M448.00,85.60 C449.58,82.55 450.90,78.50 454.60,78.50 C458.30,78.50 459.62,82.55 461.20,85.60 Z" fill="#b4a24c"/><circle cx="449.43" cy="83.22" r="1.30" fill="#b4a24c"/><circle cx="459.77" cy="83.22" r="1.28" fill="#b4a24c"/><circle cx="450.81" cy="81.00" r="1.19" fill="#b4a24c"/><circle cx="458.39" cy="81.00" r="1.35" fill="#b4a24c"/><circle cx="452.65" cy="79.45" r="1.11" fill="#b4a24c"/><circle cx="456.55" cy="79.45" r="1.05" fill="#b4a24c"/><circle cx="454.60" cy="79.20" r="1.09" fill="#b4a24c"/><circle cx="453.67" cy="81.66" r="0.81" fill="#7e6e28" opacity="0.75"/><circle cx="457.18" cy="81.93" r="0.81" fill="#cdb878" opacity="0.4"/><circle cx="456.50" cy="82.95" r="0.65" fill="#cdb878" opacity="0.4"/><circle cx="458.10" cy="83.48" r="0.77" fill="#7e6e28" opacity="0.75"/><circle cx="457.27" cy="81.23" r="0.74" fill="#7e6e28" opacity="0.75"/><circle cx="452.85" cy="81.16" r="0.80" fill="#7e6e28" opacity="0.75"/><circle cx="454.16" cy="82.40" r="0.79" fill="#cdb878" opacity="0.4"/><circle cx="455.10" cy="82.67" r="0.62" fill="#7e6e28" opacity="0.75"/><circle cx="454.31" cy="81.63" r="0.76" fill="#7e6e28" opacity="0.75"/><rect x="410.7" y="83.8" width="67.69999999999999" height="5.799999999999997" rx="1.8" fill="#dc4a52"/><rect x="411.2" y="88.39999999999999" width="66.69999999999999" height="1.2" rx="0.6" fill="#c43a44"/><circle cx="438.77" cy="85.60" r="0.55" fill="#66581e" opacity="0.6"/><circle cx="442.82" cy="85.10" r="0.55" fill="#66581e" opacity="0.6"/><circle cx="453.54" cy="85.60" r="0.55" fill="#7e6e28" opacity="0.6"/><circle cx="457.50" cy="85.10" r="0.55" fill="#7e6e28" opacity="0.6"/><use href="#mouse" x="433.80" y="98.30" width="31.20" height="17.60"/>
<text x="265.9" y="9.5" font-size="9.5" text-anchor="middle" textLength="59.6" lengthAdjust="spacingAndGlyphs">Sour, sweet and</text>
<text x="265.8" y="19.9" font-size="9.5" text-anchor="middle" textLength="39.6" lengthAdjust="spacingAndGlyphs">bitter feed</text>
<text x="359.8" y="15.1" font-size="9.6" text-anchor="middle" textLength="77.3" lengthAdjust="spacingAndGlyphs">Sour and bitter feed</text>
<text x="447.5" y="14.9" font-size="9.6" text-anchor="middle" textLength="76.9" lengthAdjust="spacingAndGlyphs">Sour and bitter feed</text>
<g fill="#000">
<rect x="92.4" y="134.4" width="354.8" height="3.1"/>
<rect x="92.55" y="120.8" width="3.1" height="16.7"/>
<rect x="179.04999999999998" y="120.8" width="3.1" height="16.7"/>
<rect x="265.45" y="120.8" width="3.1" height="16.7"/>
<rect x="360.45" y="120.8" width="3.1" height="16.7"/>
<rect x="444.05" y="120.8" width="3.1" height="16.7"/>
</g>
<text x="52" y="152.1" font-size="11.5" text-anchor="start" textLength="70" lengthAdjust="spacingAndGlyphs">Acclimatization</text>
<text x="165.7" y="153" font-size="11.8" text-anchor="start" textLength="28.7" lengthAdjust="spacingAndGlyphs">Day 1</text>
<text x="249.9" y="153" font-size="11.8" text-anchor="start" textLength="34.4" lengthAdjust="spacingAndGlyphs">Day 12</text>
<text x="347.2" y="153" font-size="11.8" text-anchor="start" textLength="33.7" lengthAdjust="spacingAndGlyphs">Day 22</text>
<text x="428" y="153" font-size="11.8" text-anchor="start" textLength="58.9" lengthAdjust="spacingAndGlyphs">Day 30 End</text>
<rect x="56.05" y="248.975" width="5.1" height="62.01550000000002" fill="#111"/>
<rect x="57.199999999999996" y="305.731" width="2.8" height="4.559500000000037" fill="#ff6400"/>
<rect x="57.199999999999996" y="302.497" width="2.8" height="2.1339999999999804" fill="#ff6400"/>
<rect x="57.199999999999996" y="296.2985" width="2.8" height="5.0985000000000245" fill="#14a6c8"/>
<rect x="57.199999999999996" y="289.83050000000003" width="2.8" height="5.367999999999961" fill="#06c806"/>
<rect x="57.199999999999996" y="264.228" width="2.8" height="24.50250000000002" fill="#06c806"/>
<rect x="57.199999999999996" y="255.33450000000002" width="2.8" height="7.793499999999989" fill="#06c806"/>
<rect x="57.199999999999996" y="249.675" width="2.8" height="4.559500000000009" fill="#06c806"/>
<rect x="66.85000000000001" y="301.25800000000004" width="5.1" height="14.179249999999957" fill="#111"/>
<rect x="68.00000000000001" y="313.54650000000004" width="2.8" height="1.1907499999999458" fill="#ff6400"/>
<rect x="68.00000000000001" y="304.9225" width="2.8" height="7.524000000000024" fill="#ff6400"/>
<rect x="68.00000000000001" y="301.958" width="2.8" height="1.8644999999999867" fill="#14a6c8"/>
<rect x="66.85000000000001" y="247.35799999999998" width="5.1" height="34.25700000000005" fill="#111"/>
<rect x="68.00000000000001" y="268.8095" width="2.8" height="12.10550000000003" fill="#ff55ee"/>
<rect x="68.00000000000001" y="257.76" width="2.8" height="9.949500000000024" fill="#ff55ee"/>
<rect x="68.00000000000001" y="249.40550000000002" width="2.8" height="7.2544999999999735" fill="#06c806"/>
<rect x="68.00000000000001" y="248.058" width="2.8" height="0.24750000000002492" fill="#06c806"/>
<rect x="77.65" y="307.726" width="5.1" height="6.902750000000014" fill="#111"/>
<rect x="78.80000000000001" y="308.426" width="2.8" height="5.502750000000015" fill="#ff6400"/>
<rect x="77.65" y="255.1735" width="5.1" height="46.38450000000002" fill="#111"/>
<rect x="78.80000000000001" y="296.2985" width="2.8" height="4.559500000000037" fill="#14a6c8"/>
<rect x="78.80000000000001" y="283.632" width="2.8" height="11.566499999999985" fill="#06c806"/>
<rect x="78.80000000000001" y="282.28450000000004" width="2.8" height="0.24749999999996808" fill="#06c806"/>
<rect x="78.80000000000001" y="267.73150000000004" width="2.8" height="13.452999999999998" fill="#06c806"/>
<rect x="78.80000000000001" y="255.8735" width="2.8" height="10.758000000000033" fill="#06c806"/>
<rect x="88.45" y="314.32875" width="5.1" height="1.647500000000025" fill="#111"/>
<rect x="89.60000000000001" y="315.02875" width="2.8" height="0.24750000000002492" fill="#222"/>
<rect x="88.45" y="266.223" width="5.1" height="36.413" fill="#111"/>
<rect x="89.60000000000001" y="286.86600000000004" width="2.8" height="15.06999999999996" fill="#06c806"/>
<rect x="89.60000000000001" y="275.8165" width="2.8" height="9.949500000000024" fill="#06c806"/>
<rect x="89.60000000000001" y="266.923" width="2.8" height="7.793500000000018" fill="#06c806"/>
<rect x="88.45" y="225.52849999999998" width="5.1" height="27.789000000000033" fill="#111"/>
<rect x="89.60000000000001" y="249.13600000000002" width="2.8" height="3.4815000000000054" fill="#ff55ee"/>
<rect x="89.60000000000001" y="226.2285" width="2.8" height="21.807500000000026" fill="#ff55ee"/>
<rect x="99.25" y="284.54900000000004" width="5.1" height="28.05849999999997" fill="#111"/>
<rect x="100.4" y="307.6175" width="2.8" height="4.289999999999987" fill="#ff6400"/>
<rect x="100.4" y="306.0005" width="2.8" height="0.5170000000000186" fill="#222"/>
<rect x="100.4" y="299.26300000000003" width="2.8" height="5.637499999999955" fill="#06c806"/>
<rect x="100.4" y="294.41200000000003" width="2.8" height="3.750999999999999" fill="#06c806"/>
<rect x="100.4" y="290.1" width="2.8" height="3.2120000000000117" fill="#06c806"/>
<rect x="100.4" y="285.249" width="2.8" height="3.750999999999999" fill="#06c806"/>
<rect x="99.25" y="246.0105" width="5.1" height="28.597500000000014" fill="#111"/>
<rect x="100.4" y="256.143" width="2.8" height="17.765000000000036" fill="#ff55ee"/>
<rect x="100.4" y="246.71050000000002" width="2.8" height="8.332499999999976" fill="#ff55ee"/>
<rect x="110.05000000000001" y="292.9035" width="5.1" height="22.533749999999987" fill="#111"/>
<rect x="111.20000000000002" y="310.8515" width="2.8" height="3.885749999999996" fill="#ff6400"/>
<rect x="111.20000000000002" y="308.96500000000003" width="2.8" height="0.7864999999999553" fill="#ff6400"/>
<rect x="111.20000000000002" y="296.2985" width="2.8" height="11.566500000000042" fill="#06c806"/>
<rect x="111.20000000000002" y="293.6035" width="2.8" height="1.594999999999993" fill="#14a6c8"/>
<rect x="110.05000000000001" y="229.8405" width="5.1" height="29.944999999999983" fill="#111"/>
<rect x="111.20000000000002" y="249.40550000000002" width="2.8" height="9.679999999999973" fill="#ff55ee"/>
<rect x="111.20000000000002" y="230.5405" width="2.8" height="17.765000000000008" fill="#ff55ee"/>
<rect x="120.85000000000001" y="289.939" width="5.1" height="24.01600000000001" fill="#111"/>
<rect x="122.00000000000001" y="310.043" width="2.8" height="3.2120000000000117" fill="#ff6400"/>
<rect x="122.00000000000001" y="305.4615" width="2.8" height="3.4815000000000054" fill="#ff6400"/>
<rect x="122.00000000000001" y="303.575" width="2.8" height="0.7865000000000122" fill="#06c806"/>
<rect x="122.00000000000001" y="299.66725" width="2.8" height="2.8077499999999644" fill="#06c806"/>
<rect x="122.00000000000001" y="290.639" width="2.8" height="7.9282500000000145" fill="#06c806"/>
<rect x="131.64999999999998" y="293.173" width="5.1" height="22.264249999999993" fill="#111"/>
<rect x="132.79999999999998" y="314.0855" width="2.8" height="0.6517499999999585" fill="#14a6c8"/>
<rect x="132.79999999999998" y="308.96500000000003" width="2.8" height="4.020499999999993" fill="#ff6400"/>
<rect x="132.79999999999998" y="304.9225" width="2.8" height="2.942500000000018" fill="#ff6400"/>
<rect x="132.79999999999998" y="302.497" width="2.8" height="1.3254999999999995" fill="#1a5a1a"/>
<rect x="132.79999999999998" y="293.873" width="2.8" height="7.524000000000024" fill="#06c806"/>
<rect x="142.45" y="257.32950000000005" width="5.1" height="51.23549999999999" fill="#111"/>
<rect x="143.6" y="303.575" width="2.8" height="4.290000000000044" fill="#ff6400"/>
<rect x="143.6" y="293.334" width="2.8" height="9.140999999999986" fill="#ff6400"/>
<rect x="143.6" y="271.63925" width="2.8" height="20.594749999999998" fill="#ff6400"/>
<rect x="143.6" y="258.02950000000004" width="2.8" height="12.509749999999963" fill="#06c806"/>
<rect x="153.25" y="242.7765" width="5.1" height="54.2" fill="#111"/>
<rect x="154.4" y="286.86600000000004" width="2.8" height="9.41049999999998" fill="#14a6c8"/>
<rect x="154.4" y="278.5115" width="2.8" height="7.25450000000003" fill="#14a6c8"/>
<rect x="154.4" y="276.086" width="2.8" height="1.3254999999999995" fill="#ff6400"/>
<rect x="154.4" y="269.8875" width="2.8" height="5.0985000000000245" fill="#ff6400"/>
<rect x="154.4" y="267.73150000000004" width="2.8" height="1.055999999999949" fill="#222"/>
<rect x="154.4" y="262.88050000000004" width="2.8" height="3.750999999999999" fill="#06c806"/>
<rect x="154.4" y="261.2635" width="2.8" height="0.5170000000000186" fill="#06c806"/>
<rect x="154.4" y="243.47650000000002" width="2.8" height="16.687000000000005" fill="#06c806"/>
<rect x="164.05" y="275.6555" width="5.1" height="17.54799999999999" fill="#111"/>
<rect x="165.20000000000002" y="290.3695" width="2.8" height="2.1339999999999804" fill="#14a6c8"/>
<rect x="165.20000000000002" y="284.171" width="2.8" height="5.0985000000000245" fill="#14a6c8"/>
<rect x="165.20000000000002" y="279.32" width="2.8" height="3.750999999999999" fill="#ff6400"/>
<rect x="165.20000000000002" y="276.3555" width="2.8" height="1.8644999999999867" fill="#ff6400"/>
<rect x="164.05" y="250.32250000000002" width="5.1" height="16.73950000000001" fill="#111"/>
<rect x="165.20000000000002" y="256.9515" width="2.8" height="9.410500000000036" fill="#06c806"/>
<rect x="165.20000000000002" y="251.02250000000004" width="2.8" height="4.828999999999974" fill="#06c806"/>
<rect x="174.85000000000002" y="271.613" width="5.1" height="31.831499999999995" fill="#111"/>
<rect x="176.00000000000003" y="296.83750000000003" width="2.8" height="5.9069999999999485" fill="#14a6c8"/>
<rect x="176.00000000000003" y="287.6745" width="2.8" height="8.063000000000011" fill="#ff6400"/>
<rect x="176.00000000000003" y="285.788" width="2.8" height="0.7865000000000122" fill="#ff6400"/>
<rect x="176.00000000000003" y="272.313" width="2.8" height="12.375000000000023" fill="#ff6400"/>
<rect x="185.64999999999998" y="288.322" width="5.1" height="21.321000000000016" fill="#111"/>
<rect x="186.79999999999998" y="306.27000000000004" width="2.8" height="2.6729999999999676" fill="#ff6400"/>
<rect x="186.79999999999998" y="297.3765" width="2.8" height="7.793500000000018" fill="#ff6400"/>
<rect x="186.79999999999998" y="290.1" width="2.8" height="6.176499999999999" fill="#14a6c8"/>
<rect x="186.79999999999998" y="289.022" width="2.8" height="0.1" fill="#222"/>
<rect x="196.45" y="255.44299999999998" width="5.1" height="20.243000000000013" fill="#111"/>
<rect x="197.6" y="273.391" width="2.8" height="1.594999999999993" fill="#14a6c8"/>
<rect x="197.6" y="262.3415" width="2.8" height="9.949500000000024" fill="#ff6400"/>
<rect x="197.6" y="256.143" width="2.8" height="5.098499999999996" fill="#ff6400"/>
<rect x="207.25" y="272.69100000000003" width="5.1" height="11.079999999999973" fill="#111"/>
<rect x="208.4" y="278.781" width="2.8" height="4.289999999999987" fill="#ff6400"/>
<rect x="208.4" y="273.391" width="2.8" height="4.289999999999987" fill="#ff6400"/>
<rect x="207.25" y="249.51399999999998" width="5.1" height="22.39899999999999" fill="#111"/>
<rect x="208.4" y="259.377" width="2.8" height="11.835999999999979" fill="#14a6c8"/>
<rect x="208.4" y="250.214" width="2.8" height="8.063000000000011" fill="#14a6c8"/>
<line x1="118.9" y1="208.2" x2="118.9" y2="316.5" stroke="#262626" stroke-width="1.4" stroke-dasharray="2.8 1.75" stroke-dashoffset="1.0"/>
<line x1="172.2" y1="208.2" x2="172.2" y2="316.5" stroke="#262626" stroke-width="1.4" stroke-dasharray="2.8 1.75" stroke-dashoffset="1.0"/>
<rect x="47.15" y="208.2" width="1.3" height="109.0" fill="#111"/>
<rect x="47.15" y="315.85" width="163.3" height="1.3" fill="#111"/>
<rect x="45.199999999999996" y="316.0" width="2.2" height="1" fill="#111"/>
<text x="43.8" y="319.2" font-size="7.7" text-anchor="end" textLength="4.0" lengthAdjust="spacingAndGlyphs">0</text>
<rect x="45.199999999999996" y="289.05" width="2.2" height="1" fill="#111"/>
<text x="43.8" y="292.25" font-size="7.7" text-anchor="end" textLength="8.0" lengthAdjust="spacingAndGlyphs">10</text>
<rect x="45.199999999999996" y="262.1" width="2.2" height="1" fill="#111"/>
<text x="43.8" y="265.3" font-size="7.7" text-anchor="end" textLength="8.0" lengthAdjust="spacingAndGlyphs">20</text>
<rect x="45.199999999999996" y="235.15" width="2.2" height="1" fill="#111"/>
<text x="43.8" y="238.35" font-size="7.7" text-anchor="end" textLength="8.0" lengthAdjust="spacingAndGlyphs">30</text>
<rect x="45.199999999999996" y="208.2" width="2.2" height="1" fill="#111"/>
<text x="43.8" y="211.39999999999998" font-size="7.7" text-anchor="end" textLength="8.0" lengthAdjust="spacingAndGlyphs">40</text>
<rect x="47.3" y="316.5" width="1" height="3.1" fill="#111"/>
<text x="47.8" y="328.5" font-size="7.7" text-anchor="middle" textLength="4.1" lengthAdjust="spacingAndGlyphs">0</text>
<rect x="58.099999999999994" y="316.5" width="1" height="3.1" fill="#111"/>
<text x="58.599999999999994" y="328.5" font-size="7.7" text-anchor="middle" textLength="4.1" lengthAdjust="spacingAndGlyphs">2</text>
<rect x="68.9" y="316.5" width="1" height="3.1" fill="#111"/>
<text x="69.4" y="328.5" font-size="7.7" text-anchor="middle" textLength="4.1" lengthAdjust="spacingAndGlyphs">4</text>
<rect x="79.7" y="316.5" width="1" height="3.1" fill="#111"/>
<text x="80.2" y="328.5" font-size="7.7" text-anchor="middle" textLength="4.1" lengthAdjust="spacingAndGlyphs">6</text>
<rect x="90.5" y="316.5" width="1" height="3.1" fill="#111"/>
<text x="91.0" y="328.5" font-size="7.7" text-anchor="middle" textLength="4.1" lengthAdjust="spacingAndGlyphs">8</text>
<rect x="101.3" y="316.5" width="1" height="3.1" fill="#111"/>
<text x="101.8" y="328.5" font-size="7.7" text-anchor="middle" textLength="8.2" lengthAdjust="spacingAndGlyphs">10</text>
<rect x="112.10000000000001" y="316.5" width="1" height="3.1" fill="#111"/>
<text x="112.60000000000001" y="328.5" font-size="7.7" text-anchor="middle" textLength="8.2" lengthAdjust="spacingAndGlyphs">12</text>
<rect x="122.9" y="316.5" width="1" height="3.1" fill="#111"/>
<text x="123.4" y="328.5" font-size="7.7" text-anchor="middle" textLength="8.2" lengthAdjust="spacingAndGlyphs">14</text>
<rect x="133.7" y="316.5" width="1" height="3.1" fill="#111"/>
<text x="134.2" y="328.5" font-size="7.7" text-anchor="middle" textLength="8.2" lengthAdjust="spacingAndGlyphs">16</text>
<rect x="144.5" y="316.5" width="1" height="3.1" fill="#111"/>
<text x="145.0" y="328.5" font-size="7.7" text-anchor="middle" textLength="8.2" lengthAdjust="spacingAndGlyphs">18</text>
<rect x="155.3" y="316.5" width="1" height="3.1" fill="#111"/>
<text x="155.8" y="328.5" font-size="7.7" text-anchor="middle" textLength="8.2" lengthAdjust="spacingAndGlyphs">20</text>
<rect x="166.10000000000002" y="316.5" width="1" height="3.1" fill="#111"/>
<text x="166.60000000000002" y="328.5" font-size="7.7" text-anchor="middle" textLength="8.2" lengthAdjust="spacingAndGlyphs">22</text>
<rect x="176.90000000000003" y="316.5" width="1" height="3.1" fill="#111"/>
<text x="177.40000000000003" y="328.5" font-size="7.7" text-anchor="middle" textLength="8.2" lengthAdjust="spacingAndGlyphs">24</text>
<rect x="187.7" y="316.5" width="1" height="3.1" fill="#111"/>
<text x="188.2" y="328.5" font-size="7.7" text-anchor="middle" textLength="8.2" lengthAdjust="spacingAndGlyphs">26</text>
<rect x="198.5" y="316.5" width="1" height="3.1" fill="#111"/>
<text x="199.0" y="328.5" font-size="7.7" text-anchor="middle" textLength="8.2" lengthAdjust="spacingAndGlyphs">28</text>
<rect x="209.3" y="316.5" width="1" height="3.1" fill="#111"/>
<text x="209.8" y="328.5" font-size="7.7" text-anchor="middle" textLength="8.2" lengthAdjust="spacingAndGlyphs">30</text>
<text x="91.6" y="181.6" font-size="9.2" text-anchor="start" textLength="71" lengthAdjust="spacingAndGlyphs" xml:space="preserve">Low  temperature</text>
<text x="3.8" y="208.4" font-size="13.4" text-anchor="start" textLength="8.4" lengthAdjust="spacingAndGlyphs">B</text>
<text transform="translate(30.6,309.6) rotate(-90)" font-size="9.3" textLength="95.7" lengthAdjust="spacingAndGlyphs">Fodder consumption (g)</text>
<text x="119.6" y="342.4" font-size="9" text-anchor="start" textLength="18.6" lengthAdjust="spacingAndGlyphs">Days</text>
<rect x="327.2" y="281.526" width="5.1" height="28.636000000000013" fill="#111"/>
<rect x="328.34999999999997" y="306.558" width="2.8" height="2.904000000000019" fill="#14a6c8"/>
<rect x="328.34999999999997" y="304.556" width="2.8" height="0.9020000000000095" fill="#06c806"/>
<rect x="328.34999999999997" y="297.164" width="2.8" height="6.291999999999996" fill="#ff6400"/>
<rect x="328.34999999999997" y="293.622" width="2.8" height="2.441999999999973" fill="#ff6400"/>
<rect x="328.34999999999997" y="292.082" width="2.8" height="0.4400000000000204" fill="#ff6400"/>
<rect x="328.34999999999997" y="282.226" width="2.8" height="8.755999999999995" fill="#ff6400"/>
<rect x="338.0" y="279.986" width="5.1" height="29.55999999999999" fill="#111"/>
<rect x="339.15" y="306.866" width="2.8" height="1.979999999999984" fill="#14a6c8"/>
<rect x="339.15" y="299.166" width="2.8" height="6.599999999999989" fill="#06c806"/>
<rect x="339.15" y="293.93" width="2.8" height="4.13599999999999" fill="#ff6400"/>
<rect x="339.15" y="291.15799999999996" width="2.8" height="1.6720000000000481" fill="#ff6400"/>
<rect x="339.15" y="289.31" width="2.8" height="0.7479999999999563" fill="#06c806"/>
<rect x="339.15" y="280.686" width="2.8" height="7.524000000000024" fill="#06c806"/>
<rect x="348.79999999999995" y="280.294" width="5.1" height="32.332000000000036" fill="#111"/>
<rect x="349.94999999999993" y="304.248" width="2.8" height="7.67800000000002" fill="#ff6400"/>
<rect x="349.94999999999993" y="302.246" width="2.8" height="0.9020000000000095" fill="#ff6400"/>
<rect x="349.94999999999993" y="292.082" width="2.8" height="9.063999999999988" fill="#ff6400"/>
<rect x="349.94999999999993" y="289.31" width="2.8" height="1.6719999999999913" fill="#ff6400"/>
<rect x="349.94999999999993" y="284.998" width="2.8" height="3.2120000000000117" fill="#06c806"/>
<rect x="349.94999999999993" y="280.99399999999997" width="2.8" height="2.904000000000019" fill="#06c806"/>
<rect x="359.59999999999997" y="291.844" width="5.1" height="20.47399999999998" fill="#111"/>
<rect x="360.74999999999994" y="307.48199999999997" width="2.8" height="4.13599999999999" fill="#ff6400"/>
<rect x="360.74999999999994" y="305.018" width="2.8" height="1.3639999999999985" fill="#ff6400"/>
<rect x="360.74999999999994" y="298.858" width="2.8" height="5.0599999999999685" fill="#ff6400"/>
<rect x="360.74999999999994" y="292.544" width="2.8" height="5.214000000000022" fill="#06c806"/>
<rect x="359.59999999999997" y="272.44" width="5.1" height="17.24" fill="#111"/>
<rect x="360.74999999999994" y="282.534" width="2.8" height="6.445999999999993" fill="#ff55ee"/>
<rect x="360.74999999999994" y="273.14" width="2.8" height="8.294000000000006" fill="#ff55ee"/>
<rect x="370.4" y="303.394" width="5.1" height="8.307999999999982" fill="#111"/>
<rect x="371.54999999999995" y="308.868" width="2.8" height="2.1339999999999804" fill="#ff6400"/>
<rect x="371.54999999999995" y="306.25" width="2.8" height="1.517999999999995" fill="#ff6400"/>
<rect x="371.54999999999995" y="304.094" width="2.8" height="1.0560000000000058" fill="#ff6400"/>
<rect x="370.4" y="269.822" width="5.1" height="31.408000000000005" fill="#111"/>
<rect x="371.54999999999995" y="298.55" width="2.8" height="1.979999999999984" fill="#06c806"/>
<rect x="371.54999999999995" y="288.694" width="2.8" height="8.755999999999995" fill="#06c806"/>
<rect x="371.54999999999995" y="286.846" width="2.8" height="0.7480000000000131" fill="#06c806"/>
<rect x="371.54999999999995" y="275.758" width="2.8" height="9.988000000000023" fill="#ff55ee"/>
<rect x="371.54999999999995" y="270.522" width="2.8" height="4.13599999999999" fill="#ff55ee"/>
<rect x="381.2" y="286.762" width="5.1" height="21.706000000000007" fill="#111"/>
<rect x="382.34999999999997" y="306.25" width="2.8" height="1.517999999999995" fill="#ff6400"/>
<rect x="382.34999999999997" y="304.556" width="2.8" height="0.5940000000000167" fill="#ff6400"/>
<rect x="382.34999999999997" y="300.39799999999997" width="2.8" height="3.0580000000000154" fill="#ff6400"/>
<rect x="382.34999999999997" y="295.162" width="2.8" height="4.13599999999999" fill="#06c806"/>
<rect x="382.34999999999997" y="287.462" width="2.8" height="6.599999999999989" fill="#06c806"/>
<rect x="381.2" y="255.34599999999998" width="5.1" height="23.400000000000023" fill="#111"/>
<rect x="382.34999999999997" y="265.132" width="2.8" height="12.91400000000001" fill="#ff55ee"/>
<rect x="382.34999999999997" y="256.046" width="2.8" height="7.986000000000013" fill="#ff55ee"/>
<rect x="392.0" y="289.996" width="5.1" height="22.321999999999992" fill="#111"/>
<rect x="393.15" y="308.868" width="2.8" height="2.749999999999966" fill="#14a6c8"/>
<rect x="393.15" y="303.632" width="2.8" height="4.13599999999999" fill="#ff6400"/>
<rect x="393.15" y="301.476" width="2.8" height="1.0560000000000058" fill="#ff6400"/>
<rect x="393.15" y="294.546" width="2.8" height="5.830000000000007" fill="#ff6400"/>
<rect x="393.15" y="290.69599999999997" width="2.8" height="2.7500000000000226" fill="#06c806"/>
<rect x="402.79999999999995" y="271.054" width="5.1" height="29.252" fill="#111"/>
<rect x="403.94999999999993" y="298.55" width="2.8" height="1.055999999999949" fill="#14a6c8"/>
<rect x="403.94999999999993" y="296.394" width="2.8" height="1.0560000000000058" fill="#ff6400"/>
<rect x="403.94999999999993" y="294.546" width="2.8" height="0.7480000000000131" fill="#ff6400"/>
<rect x="403.94999999999993" y="284.69" width="2.8" height="8.755999999999995" fill="#ff6400"/>
<rect x="403.94999999999993" y="278.83799999999997" width="2.8" height="4.752000000000033" fill="#06c806"/>
<rect x="403.94999999999993" y="271.75399999999996" width="2.8" height="5.9840000000000035" fill="#06c806"/>
<rect x="413.59999999999997" y="260.428" width="5.1" height="52.19800000000002" fill="#111"/>
<rect x="414.74999999999994" y="308.098" width="2.8" height="3.827999999999997" fill="#14a6c8"/>
<rect x="414.74999999999994" y="301.63" width="2.8" height="5.368000000000018" fill="#14a6c8"/>
<rect x="414.74999999999994" y="295.162" width="2.8" height="5.368000000000018" fill="#ff6400"/>
<rect x="414.74999999999994" y="293.622" width="2.8" height="0.43999999999996353" fill="#ff6400"/>
<rect x="414.74999999999994" y="292.082" width="2.8" height="0.4400000000000204" fill="#ff6400"/>
<rect x="414.74999999999994" y="289.464" width="2.8" height="1.517999999999995" fill="#14a6c8"/>
<rect x="414.74999999999994" y="284.228" width="2.8" height="4.13599999999999" fill="#06c806"/>
<rect x="414.74999999999994" y="275.758" width="2.8" height="7.370000000000028" fill="#06c806"/>
<rect x="414.74999999999994" y="261.128" width="2.8" height="13.529999999999996" fill="#06c806"/>
<rect x="424.4" y="277.83" width="5.1" height="32.02399999999999" fill="#111"/>
<rect x="425.54999999999995" y="303.786" width="2.8" height="5.367999999999961" fill="#ff6400"/>
<rect x="425.54999999999995" y="301.322" width="2.8" height="1.3639999999999985" fill="#ff6400"/>
<rect x="425.54999999999995" y="284.998" width="2.8" height="15.224000000000013" fill="#ff6400"/>
<rect x="425.54999999999995" y="280.686" width="2.8" height="3.2120000000000117" fill="#06c806"/>
<rect x="425.54999999999995" y="278.53" width="2.8" height="1.0560000000000058" fill="#222"/>
<rect x="435.2" y="261.198" width="5.1" height="41.11" fill="#111"/>
<rect x="436.34999999999997" y="281.30199999999996" width="2.8" height="20.306000000000004" fill="#ff6400"/>
<rect x="436.34999999999997" y="272.062" width="2.8" height="8.139999999999953" fill="#ff6400"/>
<rect x="436.34999999999997" y="264.51599999999996" width="2.8" height="6.4460000000000495" fill="#ff6400"/>
<rect x="436.34999999999997" y="261.89799999999997" width="2.8" height="1.517999999999995" fill="#222"/>
<rect x="446.0" y="266.126" width="5.1" height="31.716000000000054" fill="#111"/>
<rect x="447.15" y="289.31" width="2.8" height="7.832000000000017" fill="#14a6c8"/>
<rect x="447.15" y="280.378" width="2.8" height="7.832000000000017" fill="#ff6400"/>
<rect x="447.15" y="272.062" width="2.8" height="7.215999999999974" fill="#ff6400"/>
<rect x="447.15" y="266.82599999999996" width="2.8" height="4.136000000000047" fill="#ff6400"/>
<rect x="456.79999999999995" y="217.15399999999997" width="5.1" height="64.36400000000002" fill="#111"/>
<rect x="457.94999999999993" y="272.216" width="2.8" height="8.601999999999999" fill="#14a6c8"/>
<rect x="457.94999999999993" y="254.814" width="2.8" height="16.302000000000014" fill="#14a6c8"/>
<rect x="457.94999999999993" y="238.798" width="2.8" height="14.915999999999991" fill="#ff6400"/>
<rect x="457.94999999999993" y="217.85399999999998" width="2.8" height="19.844000000000015" fill="#ff6400"/>
<rect x="467.6" y="261.814" width="5.1" height="41.725999999999985" fill="#111"/>
<rect x="468.75" y="298.858" width="2.8" height="3.9819999999999935" fill="#ff6400"/>
<rect x="468.75" y="285.614" width="2.8" height="12.144000000000029" fill="#ff6400"/>
<rect x="468.75" y="264.054" width="2.8" height="20.46" fill="#ff6400"/>
<rect x="468.75" y="262.514" width="2.8" height="0.43999999999996353" fill="#222"/>
<rect x="478.4" y="267.05" width="5.1" height="37.56799999999997" fill="#111"/>
<rect x="479.54999999999995" y="286.22999999999996" width="2.8" height="17.68800000000001" fill="#14a6c8"/>
<rect x="479.54999999999995" y="284.382" width="2.8" height="0.7479999999999563" fill="#14a6c8"/>
<rect x="479.54999999999995" y="282.226" width="2.8" height="1.0560000000000058" fill="#1a5262"/>
<rect x="479.54999999999995" y="280.378" width="2.8" height="0.7480000000000131" fill="#ff6400"/>
<rect x="479.54999999999995" y="276.066" width="2.8" height="3.2120000000000117" fill="#ff6400"/>
<rect x="479.54999999999995" y="267.75" width="2.8" height="7.215999999999974" fill="#ff6400"/>
<line x1="388.9" y1="205.09999999999997" x2="388.9" y2="313.4" stroke="#262626" stroke-width="1.4" stroke-dasharray="2.8 1.75" stroke-dashoffset="0.4"/>
<line x1="443.0" y1="205.09999999999997" x2="443.0" y2="313.4" stroke="#262626" stroke-width="1.4" stroke-dasharray="2.8 1.75" stroke-dashoffset="0.4"/>
<rect x="317.85" y="205.09999999999997" width="1.3" height="109.0" fill="#111"/>
<rect x="317.85" y="312.75" width="163.3" height="1.3" fill="#111"/>
<rect x="315.9" y="312.9" width="2.2" height="1" fill="#111"/>
<text x="314.5" y="316.09999999999997" font-size="7.9" text-anchor="end" textLength="4.0" lengthAdjust="spacingAndGlyphs">0</text>
<rect x="315.9" y="297.5" width="2.2" height="1" fill="#111"/>
<text x="314.5" y="300.7" font-size="7.9" text-anchor="end" textLength="4.0" lengthAdjust="spacingAndGlyphs">5</text>
<rect x="315.9" y="282.09999999999997" width="2.2" height="1" fill="#111"/>
<text x="314.5" y="285.29999999999995" font-size="7.9" text-anchor="end" textLength="8.0" lengthAdjust="spacingAndGlyphs">10</text>
<rect x="315.9" y="266.7" width="2.2" height="1" fill="#111"/>
<text x="314.5" y="269.9" font-size="7.9" text-anchor="end" textLength="8.0" lengthAdjust="spacingAndGlyphs">15</text>
<rect x="315.9" y="251.29999999999998" width="2.2" height="1" fill="#111"/>
<text x="314.5" y="254.49999999999997" font-size="7.9" text-anchor="end" textLength="8.0" lengthAdjust="spacingAndGlyphs">20</text>
<rect x="315.9" y="235.89999999999998" width="2.2" height="1" fill="#111"/>
<text x="314.5" y="239.09999999999997" font-size="7.9" text-anchor="end" textLength="8.0" lengthAdjust="spacingAndGlyphs">25</text>
<rect x="315.9" y="220.49999999999997" width="2.2" height="1" fill="#111"/>
<text x="314.5" y="223.69999999999996" font-size="7.9" text-anchor="end" textLength="8.0" lengthAdjust="spacingAndGlyphs">30</text>
<rect x="315.9" y="205.09999999999997" width="2.2" height="1" fill="#111"/>
<text x="314.5" y="208.29999999999995" font-size="7.9" text-anchor="end" textLength="8.0" lengthAdjust="spacingAndGlyphs">35</text>
<rect x="318.0" y="313.4" width="1" height="3.1" fill="#111"/>
<text x="318.5" y="325.4" font-size="7.9" text-anchor="middle" textLength="4.1" lengthAdjust="spacingAndGlyphs">0</text>
<rect x="328.8" y="313.4" width="1" height="3.1" fill="#111"/>
<text x="329.3" y="325.4" font-size="7.9" text-anchor="middle" textLength="4.1" lengthAdjust="spacingAndGlyphs">2</text>
<rect x="339.6" y="313.4" width="1" height="3.1" fill="#111"/>
<text x="340.1" y="325.4" font-size="7.9" text-anchor="middle" textLength="4.1" lengthAdjust="spacingAndGlyphs">4</text>
<rect x="350.4" y="313.4" width="1" height="3.1" fill="#111"/>
<text x="350.9" y="325.4" font-size="7.9" text-anchor="middle" textLength="4.1" lengthAdjust="spacingAndGlyphs">6</text>
<rect x="361.2" y="313.4" width="1" height="3.1" fill="#111"/>
<text x="361.7" y="325.4" font-size="7.9" text-anchor="middle" textLength="4.1" lengthAdjust="spacingAndGlyphs">8</text>
<rect x="372.0" y="313.4" width="1" height="3.1" fill="#111"/>
<text x="372.5" y="325.4" font-size="7.9" text-anchor="middle" textLength="8.2" lengthAdjust="spacingAndGlyphs">10</text>
<rect x="382.8" y="313.4" width="1" height="3.1" fill="#111"/>
<text x="383.3" y="325.4" font-size="7.9" text-anchor="middle" textLength="8.2" lengthAdjust="spacingAndGlyphs">12</text>
<rect x="393.6" y="313.4" width="1" height="3.1" fill="#111"/>
<text x="394.1" y="325.4" font-size="7.9" text-anchor="middle" textLength="8.2" lengthAdjust="spacingAndGlyphs">14</text>
<rect x="404.4" y="313.4" width="1" height="3.1" fill="#111"/>
<text x="404.9" y="325.4" font-size="7.9" text-anchor="middle" textLength="8.2" lengthAdjust="spacingAndGlyphs">16</text>
<rect x="415.2" y="313.4" width="1" height="3.1" fill="#111"/>
<text x="415.7" y="325.4" font-size="7.9" text-anchor="middle" textLength="8.2" lengthAdjust="spacingAndGlyphs">18</text>
<rect x="426.0" y="313.4" width="1" height="3.1" fill="#111"/>
<text x="426.5" y="325.4" font-size="7.9" text-anchor="middle" textLength="8.2" lengthAdjust="spacingAndGlyphs">20</text>
<rect x="436.8" y="313.4" width="1" height="3.1" fill="#111"/>
<text x="437.3" y="325.4" font-size="7.9" text-anchor="middle" textLength="8.2" lengthAdjust="spacingAndGlyphs">22</text>
<rect x="447.6" y="313.4" width="1" height="3.1" fill="#111"/>
<text x="448.1" y="325.4" font-size="7.9" text-anchor="middle" textLength="8.2" lengthAdjust="spacingAndGlyphs">24</text>
<rect x="458.4" y="313.4" width="1" height="3.1" fill="#111"/>
<text x="458.9" y="325.4" font-size="7.9" text-anchor="middle" textLength="8.2" lengthAdjust="spacingAndGlyphs">26</text>
<rect x="469.20000000000005" y="313.4" width="1" height="3.1" fill="#111"/>
<text x="469.70000000000005" y="325.4" font-size="7.9" text-anchor="middle" textLength="8.2" lengthAdjust="spacingAndGlyphs">28</text>
<rect x="480.0" y="313.4" width="1" height="3.1" fill="#111"/>
<text x="480.5" y="325.4" font-size="7.9" text-anchor="middle" textLength="8.2" lengthAdjust="spacingAndGlyphs">30</text>
<text x="357.4" y="186.2" font-size="9.2" text-anchor="start" textLength="71.1" lengthAdjust="spacingAndGlyphs">High temperature</text>
<text x="267.6" y="208.7" font-size="14" text-anchor="start" >C</text>
<text transform="translate(301.0,313.6) rotate(-90)" font-size="10.0" textLength="106.7" lengthAdjust="spacingAndGlyphs">Fodder consumption (g)</text>
<text x="389.6" y="341.2" font-size="10.2" text-anchor="start" textLength="21.5" lengthAdjust="spacingAndGlyphs">Days</text>
<rect x="508.8" y="210.1" width="5.6" height="6" fill="#111"/><rect x="510" y="211.29999999999998" width="3.2" height="3.6" fill="#ff6400"/>
<text x="523.9" y="215.7" font-size="8.8" text-anchor="start" textLength="18.5" lengthAdjust="spacing">Sour</text>
<rect x="508.8" y="224.5" width="5.6" height="6" fill="#111"/><rect x="510" y="225.7" width="3.2" height="3.6" fill="#06c806"/>
<text x="523.9" y="230.1" font-size="8.8" text-anchor="start" textLength="23.4" lengthAdjust="spacing">Sweet</text>
<rect x="508.8" y="238.9" width="5.6" height="6" fill="#111"/><rect x="510" y="240.1" width="3.2" height="3.6" fill="#14a6c8"/>
<text x="523.9" y="244.5" font-size="8.8" text-anchor="start" textLength="24.1" lengthAdjust="spacing">Bitter</text>
<rect x="508.8" y="253.3" width="5.6" height="6" fill="#111"/><rect x="510" y="254.5" width="3.2" height="3.6" fill="#ff55ee"/>
<text x="523.9" y="258.90000000000003" font-size="8.8" text-anchor="start" textLength="19.2" lengthAdjust="spacing">Salty</text>
</svg></body></html>
